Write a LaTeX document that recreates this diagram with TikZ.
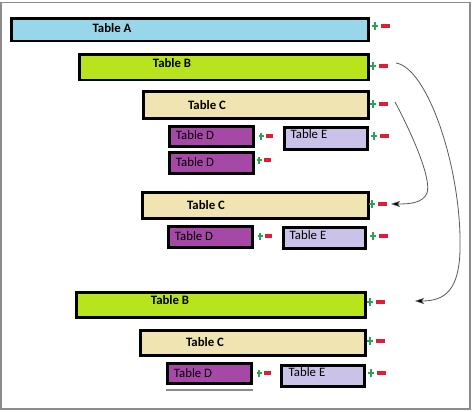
\documentclass[tikz,border=0pt]{standalone}
\usepackage{fontspec}
\setmainfont{Carlito}
\usetikzlibrary{arrows.meta}
\definecolor{cA}{RGB}{152,214,234}
\definecolor{cB}{RGB}{183,228,28}
\definecolor{cC}{RGB}{240,228,178}
\definecolor{cD}{RGB}{166,72,166}
\definecolor{cE}{RGB}{202,194,232}
\definecolor{plusgreen}{RGB}{40,165,85}
\definecolor{minusred}{RGB}{222,30,55}
\definecolor{curvegray}{RGB}{90,90,90}
\definecolor{framegray}{RGB}{140,140,140}
\newcommand\tablebox[6]{\node[tbox,fill=#6,anchor=north west,minimum width={(#4)-(#2)},minimum height={(#5)-(#3)}] (#1) at (#2,#3) {};}
\begin{document}
\begin{tikzpicture}[x=1pt,y=-1pt,
  tbox/.style={draw=black,line width=2.8pt,inner sep=0pt,rectangle},
  lblbold/.style={font=\fontsize{12.8}{14}\selectfont\bfseries,text=black,inner sep=0pt},
  lbl/.style={font=\fontsize{12.8}{14}\selectfont,text=black,inner sep=0pt},
  conn/.style={draw=curvegray,line width=0.8pt,-{Stealth[length=9pt,width=6pt,inset=2pt,fill=black,line width=0.5pt]}},
  pm/.pic={\draw[plusgreen,line width=1.8pt] (-3,0)--(3,0) (0,-4)--(0,4);
           \fill[minusred] (6,-2) rectangle (15,2);},
  pms/.pic={\draw[plusgreen,line width=1.6pt] (-2.5,0)--(2.5,0) (0,-3.5)--(0,3.5);
           \fill[minusred] (5,-2) rectangle (12,2);}
]
\useasboundingbox (0,0) rectangle (474,412);
\fill[white] (0,0) rectangle (474,412);
\draw[framegray,line width=1.6pt] (1,2.5) rectangle (470,409);

% boxes
\tablebox{A}{10.3}{17.3}{366.7}{39.7}{cA}
\tablebox{B1}{78.3}{53.3}{366.7}{78.7}{cB}
\tablebox{C1}{142.3}{90.3}{366.7}{116.7}{cC}
\tablebox{D1}{168.3}{125.3}{251.7}{144.7}{cD}
\tablebox{E1}{283.3}{126.3}{365.7}{147.7}{cE}
\tablebox{D2}{168.3}{151.3}{251.7}{171.7}{cD}
\tablebox{C2}{141.3}{191.3}{366.7}{216.7}{cC}
\tablebox{D3}{167.3}{225.3}{250.7}{245.7}{cD}
\tablebox{E3}{282.3}{226.3}{363.7}{246.7}{cE}
\tablebox{B2}{75.3}{291.3}{363.7}{315.7}{cB}
\tablebox{C3}{139.3}{329.3}{363.7}{353.7}{cC}
\tablebox{D4}{166.3}{362.3}{249.7}{381.7}{cD}
\tablebox{E4}{280.3}{364.3}{362.7}{384.7}{cE}

% labels
\node[lblbold] (tA) at (112,28) {Table A};
\node[lblbold] (tB1) at (172,63) {Table B};
\node[lblbold] (tC1) at (207,105) {Table C};
\node[lbl] (tD1) at (195,135) {Table D};
\node[lbl] (tE1) at (309,134) {Table E};
\node[lbl] (tD2) at (195,162) {Table D};
\node[lblbold] (tC2) at (206,205) {Table C};
\node[lbl] (tD3) at (194,236) {Table D};
\node[lbl] (tE3) at (308,235) {Table E};
\node[lblbold] (tB2) at (170,300) {Table B};
\node[lblbold] (tC3) at (205,342) {Table C};
\node[lbl] (tD4) at (193,373) {Table D};
\node[lbl] (tE4) at (307,372) {Table E};

% underline below last Table D
\path (D4.south west) ++(0,5.5) coordinate (u1) (D4.south east) ++(0,5.5) coordinate (u2);
\draw[framegray,line width=1.3pt] (u1) -- (u2);

% plus / minus icons
\pic at (375,26) {pm};
\pic at (373,66) {pm};
\pic at (373,104) {pm};
\pic at (261,136) {pms};
\pic at (374,136) {pm};
\pic at (259,160) {pms};
\pic at (372,204) {pm};
\pic at (260,236) {pms};
\pic at (373,236) {pm};
\pic at (370,302) {pm};
\pic at (370,341) {pm};
\pic at (259,373) {pms};
\pic at (371,373) {pm};

% connectors
\coordinate (s1) at (396,63);
\coordinate (e1) at (415,301);
\coordinate (s2) at (395,102);
\coordinate (e2) at (391,204);
\draw[conn] (s1) .. controls (428,68) and (462,170) .. (460,250) .. controls (459,290) and (445,301) .. (e1);
\draw[conn] (s2) .. controls (410,130) and (432,178) .. (427,193) .. controls (423,203) and (410,204) .. (e2);
\end{tikzpicture}
\end{document}
